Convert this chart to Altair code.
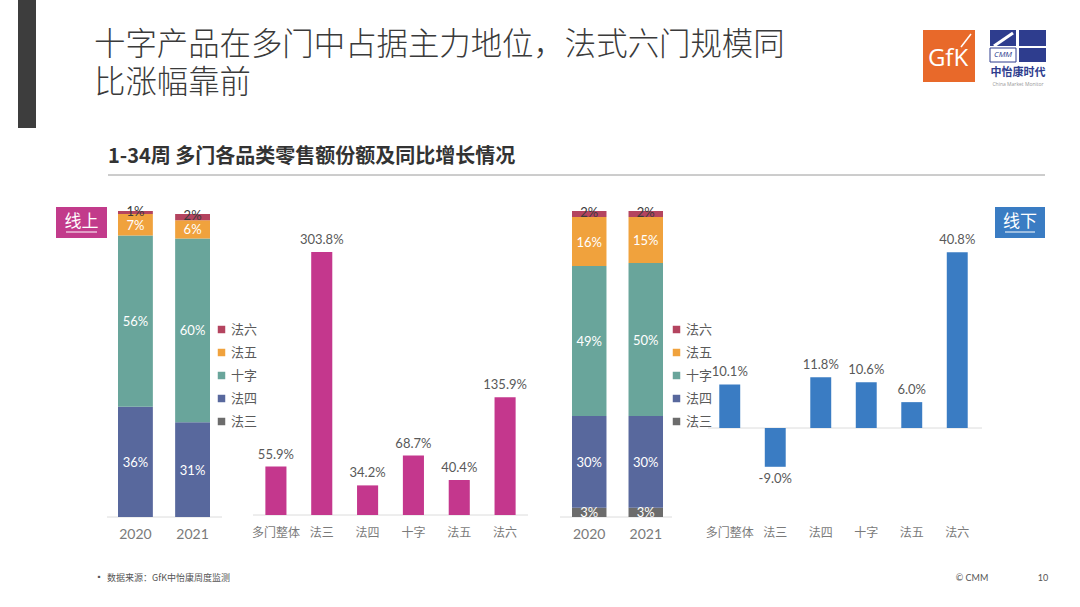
import altair as alt
import pandas as pd

# ---- data -------------------------------------------------------------
years = ["2020", "2021"]
stack_order = ["法三", "法四", "十字", "法五", "法六"]          # bottom -> top
legend_order = ["法六", "法五", "十字", "法四", "法三"]
stack_colors = ["#b4445f", "#f0a23d", "#69a59b", "#58689d", "#6c6c6c"]  # in legend_order

online_share = {
    "法三": [0, 0],
    "法四": [36, 31],
    "十字": [56, 60],
    "法五": [7, 6],
    "法六": [1, 2],
}
offline_share = {
    "法三": [3, 3],
    "法四": [30, 30],
    "十字": [49, 50],
    "法五": [16, 15],
    "法六": [2, 2],
}

growth_cats = ["多门整体", "法三", "法四", "十字", "法五", "法六"]
online_growth = [55.9, 303.8, 34.2, 68.7, 40.4, 135.9]
offline_growth = [10.1, -9.0, 11.8, 10.6, 6.0, 40.8]

ONLINE_COLOR = "#c4378d"
OFFLINE_COLOR = "#3a7cc3"
CJK = "Noto Sans CJK SC"
NUM = "Lato"


def stack_frame(shares):
    rows = []
    for i, yr in enumerate(years):
        base = 0
        for cat in stack_order:
            v = shares[cat][i]
            rows.append(dict(year=yr, cat=cat, value=v, start=base, end=base + v,
                             mid=base + v / 2, label=f"{v}%"))
            base += v
    return pd.DataFrame(rows)


def stacked_panel(shares, x_range, base_x, legend_x):
    df = stack_frame(shares)

    def xs():
        return alt.Scale(type="band", domain=years, range=x_range,
                         paddingInner=0.39, paddingOuter=0)

    def ys():
        return alt.Scale(domain=[0, 100], range=[517, 211], nice=False, zero=False)

    base = alt.Chart(df)
    rule = alt.Chart(pd.DataFrame({"z": [0]})).mark_rule(color="#dcdcdc", strokeWidth=1).encode(
        y=alt.Y("z:Q", scale=ys(), axis=None), x=alt.value(base_x[0]), x2=alt.value(base_x[1])
    )
    bars = base.mark_bar().encode(
        x=alt.X("year:N", scale=xs(), axis=None),
        y=alt.Y("start:Q", scale=ys(), axis=None),
        y2="end:Q",
        color=alt.Color(
            "cat:N",
            scale=alt.Scale(domain=legend_order, range=stack_colors),
            legend=alt.Legend(
                orient="none", legendX=legend_x, legendY=323, title=None,
                symbolType="square", symbolSize=56, symbolStrokeWidth=0,
                labelFont=CJK, labelFontSize=13, labelColor="#5a5a5a",
                rowPadding=9, labelOffset=3, padding=0,
            ),
        ),
    )
    light = base.transform_filter("datum.value > 0 && datum.cat != '法六'").mark_text(
        font=NUM, fontSize=13, color="white", dy=1
    ).encode(
        x=alt.X("year:N", scale=xs(), axis=None),
        y=alt.Y("mid:Q", scale=ys(), axis=None),
        text="label:N",
    )
    dark = base.transform_filter("datum.value > 0 && datum.cat == '法六'").mark_text(
        font=NUM, fontSize=13, color="#3b3b3b", dy=-1
    ).encode(
        x=alt.X("year:N", scale=xs(), axis=None),
        y=alt.Y("mid:Q", scale=ys(), axis=None),
        text="label:N",
    )
    yr = alt.Chart(pd.DataFrame({"year": years})).mark_text(
        font=NUM, fontSize=14, color="#7a7a7a"
    ).encode(x=alt.X("year:N", scale=xs(), axis=None), y=alt.value(535), text="year:N")
    return [rule, bars, light, dark, yr]


def growth_panel(values, color, x_range, y_domain, y_range, base_x):
    df = pd.DataFrame({"cat": growth_cats, "value": values,
                       "label": [f"{v:.1f}%" for v in values]})

    def xs():
        return alt.Scale(type="band", domain=growth_cats, range=x_range,
                         paddingInner=0.54, paddingOuter=0.27)

    def ys():
        return alt.Scale(domain=y_domain, range=y_range, nice=False)

    base = alt.Chart(df)
    rule = alt.Chart(pd.DataFrame({"z": [0]})).mark_rule(color="#dcdcdc", strokeWidth=1).encode(
        y=alt.Y("z:Q", scale=ys(), axis=None), x=alt.value(base_x[0]), x2=alt.value(base_x[1])
    )
    bars = base.mark_bar(color=color).encode(
        x=alt.X("cat:N", scale=xs(), axis=None),
        y=alt.Y("value:Q", scale=ys(), axis=None),
    )
    pos = base.transform_filter("datum.value >= 0").mark_text(
        font=NUM, fontSize=13, color="#595959", baseline="bottom", dy=-5
    ).encode(
        x=alt.X("cat:N", scale=xs(), axis=None),
        y=alt.Y("value:Q", scale=ys(), axis=None),
        text="label:N",
    )
    neg = base.transform_filter("datum.value < 0").mark_text(
        font=NUM, fontSize=13, color="#595959", baseline="top", dy=6
    ).encode(
        x=alt.X("cat:N", scale=xs(), axis=None),
        y=alt.Y("value:Q", scale=ys(), axis=None),
        text="label:N",
    )
    cats = base.mark_text(font=CJK, fontSize=12, color="#7a7a7a").encode(
        x=alt.X("cat:N", scale=xs(), axis=None), y=alt.value(533), text="cat:N"
    )
    return [rule, bars, pos, neg, cats]


# ---- page furniture ----------------------------------------------------
one = pd.DataFrame({"k": [0]})


def box(x0, x1, y0, y1, color):
    return alt.Chart(one).mark_rect(color=color).encode(
        x=alt.value(x0), x2=alt.value(x1), y=alt.value(y0), y2=alt.value(y1)
    )


def line(x0, x1, y0, y1, color, w=1):
    return alt.Chart(one).mark_rule(color=color, strokeWidth=w).encode(
        x=alt.value(x0), x2=alt.value(x1), y=alt.value(y0), y2=alt.value(y1)
    )


def label(text, x, y, size, color, font=CJK, align="left", weight="normal", italic=False):
    kw = dict(text=text, font=font, fontSize=size, color=color, align=align,
              baseline="middle", fontWeight=weight)
    if italic:
        kw["fontStyle"] = "italic"
    return alt.Chart(one).mark_text(**kw).encode(x=alt.value(x), y=alt.value(y))


deco = [
    box(18, 36, 0, 128, "#3d3d3d"),
    label("十字产品在多门中占据主力地位，法式六门规模同", 94, 46, 31.4, "#3a3a3a", weight=300),
    label("比涨幅靠前", 94, 84, 31.4, "#3a3a3a", weight=300),
    label("1-34周 多门各品类零售额份额及同比增长情况", 108, 157, 20, "#333333", weight="bold"),
    line(108, 1045, 175, 175, "#9a9a9a", 1),
    # GfK mark
    box(923, 975, 30, 82, "#e8692a"),
    label("GfK", 948, 59, 24, "white", font="Open Sans", align="center"),
    line(961, 971, 47, 34, "white", 1.5),
    # CMM mark
    box(990, 1016, 30, 46, "#2e3d8e"),
    line(994, 1013, 46, 33, "white", 3),
    box(1019, 1046, 30, 46, "#2e3d8e"),
    box(1019, 1046, 48, 62, "#2e3d8e"),
    line(990, 1016, 48, 48, "#2e3d8e", 1),
    line(990, 1016, 62, 62, "#2e3d8e", 1),
    line(990, 990, 48, 62, "#2e3d8e", 1),
    line(1016, 1016, 48, 62, "#2e3d8e", 1),
    label("CMM", 1003, 55, 8, "#2e3d8e", font="Open Sans", align="center", italic=True),
    label("中怡康时代", 1018, 73, 11, "#2e3d8e", align="center", weight="bold"),
    label("China Market Monitor", 1018, 84, 5, "#999999", font="Open Sans", align="center"),
    # channel tags
    box(56, 107, 207, 238, "#c23b8b"),
    label("线上", 81.5, 222, 17, "white", align="center"),
    line(66, 97, 232, 232, "white", 1),
    box(995, 1045, 207, 238, "#3a7cc3"),
    label("线下", 1020, 222, 17, "white", align="center"),
    line(1005, 1035, 232, 232, "white", 1),
    # footer
    label("▪", 95, 578, 8, "#555555"),
    label("数据来源：GfK中怡康周度监测", 107, 578, 9, "#555555"),
    label("© CMM", 972, 578, 9, "#555555", font=NUM, align="center"),
    label("10", 1043, 578, 9, "#555555", font=NUM, align="center"),
]

panels = (
    stacked_panel(online_share, [118, 210], (107, 222), 215)
    + growth_panel(online_growth, ONLINE_COLOR, [253, 528], [0, 350], [515, 212], (253, 528))
    + stacked_panel(offline_share, [572, 663], (560, 672), 670)
    + growth_panel(offline_growth, OFFLINE_COLOR, [707, 980], [-20, 50],
                   [428 + 20 * 4.31, 428 - 50 * 4.31], (708, 982))
)

chart = (
    alt.layer(*deco, *panels)
    .resolve_scale(x="independent", y="independent", color="independent")
    .properties(width=1080, height=607, padding=0,
                autosize=alt.AutoSizeParams(type="none"), background="white")
    .configure_view(stroke=None)
)

chart.save("out.html", embed_options={"renderer": "svg", "actions": False})
